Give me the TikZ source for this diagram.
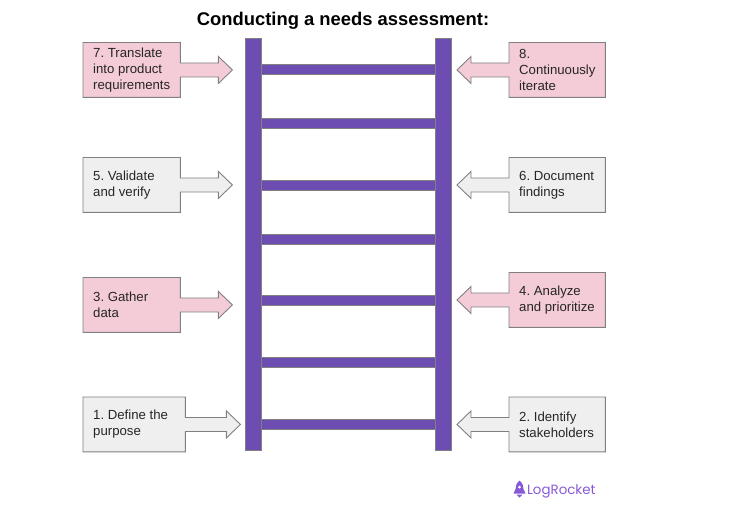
\documentclass[tikz,border=0pt]{standalone}
\usepackage{fontspec}
\setmainfont{Liberation Sans}
\newfontfamily\logofont{Poppins}
\usepackage{xcolor}
\usetikzlibrary{calc, backgrounds}
\definecolor{ladderpurple}{HTML}{6E4DB2}
\definecolor{logopurple}{HTML}{8759D6}
\definecolor{edgegrey}{HTML}{808080}
\definecolor{stepgrey}{HTML}{EFEFEF}
\definecolor{steppink}{HTML}{F4CCD7}
\tikzstyle{stepbox} = [anchor=north west, minimum height=54.5pt, inner xsep=10pt, inner ysep=0pt, align=flush left, font=\frenchspacing\fontsize{13.2}{16}\selectfont, text=black!85]
\tikzstyle{outline} = [draw=edgegrey, line width=0.9pt, line join=miter]
\tikzstyle{part} = [draw=edgegrey, line width=0.8pt, fill=ladderpurple]
% arrow outline of a box: name, fill colour, box edge to tip
\newcommand{\pointright}[3]{
\begin{scope}[on background layer]
\draw[outline, fill=#2] (#1.north west) -- (#1.north east) -- ($(#1.east)+(0,-7)$) -- ++(#3-14,0) -- ++(0,-6.5) -- ++(14,13.5) -- ++(-14,13.5) -- ++(0,-6.5) -- ++(14-#3,0) -- (#1.south east) -- (#1.south west) -- cycle;
\end{scope}}
\newcommand{\pointleft}[3]{
\begin{scope}[on background layer]
\draw[outline, fill=#2] (#1.north east) -- (#1.north west) -- ($(#1.west)+(0,-7)$) -- ++(14-#3,0) -- ++(0,-6.5) -- ++(-14,13.5) -- ++(14,13.5) -- ++(0,-6.5) -- ++(#3-14,0) -- (#1.south west) -- (#1.south east) -- cycle;
\end{scope}}
\begin{document}
\begin{tikzpicture}[x=1pt, y=-1pt]
\useasboundingbox (0,0) rectangle (730,509);
\node[anchor=base, font=\fontsize{18.4}{22}\selectfont\bfseries, text=black] (title) at (343,25) {Conducting a needs assessment:};

% ladder
\foreach \y in {64,118,180,234,295,357,419}
    \draw[part] (261,\y) rectangle (436,\y+10.5);
\draw[part] (245.5,38) rectangle (261.5,450.5);
\draw[part] (435,38) rectangle (451.5,450.5);

% left column
\node[stepbox, text width=82pt] (define) at (83,397) {1. Define the\\purpose};
\node[stepbox, text width=77pt] (gather) at (83,277.5) {3. Gather\\data};
\node[stepbox, text width=77pt] (validate) at (83,157.5) {5. Validate\\and verify};
\node[stepbox, text width=77pt] (translate) at (83,42.5) {7. Translate\\into product\\requirements};
\pointright{translate}{steppink}{52}
\pointright{validate}{stepgrey}{52}
\pointright{gather}{steppink}{52}
\pointright{define}{stepgrey}{55}

% right column
\node[stepbox, text width=76pt] (identify) at (509,397) {2. Identify\\stakeholders};
\node[stepbox, text width=76pt] (analyze) at (509,272.5) {4. Analyze\\and prioritize};
\node[stepbox, text width=76pt] (document) at (509,157.5) {6. Document\\findings};
\node[stepbox, text width=76pt] (iterate) at (509,42.5) {8.\\Continuously\\iterate};
\pointleft{iterate}{steppink}{52}
\pointleft{document}{stepgrey}{52}
\pointleft{analyze}{steppink}{52}
\pointleft{identify}{stepgrey}{52}

% logo
\fill[logopurple] (519.5,480.5) .. controls (522.5,483) and (523.5,486) .. (523.5,489) -- (525.5,493.5) -- (513.5,493.5) -- (515.5,489) .. controls (515.5,486) and (516.5,483) .. (519.5,480.5) -- cycle;
\fill[white] (519.5,487) circle (1.5);
\fill[logopurple] (516.5,494.5) -- (522.5,494.5) -- (519.5,497.5) -- cycle;
\node[anchor=base west, inner sep=0pt, font=\logofont\fontsize{13.4}{16}\selectfont, text=logopurple] (logo) at (527,494) {LogRocket};
\end{tikzpicture}
\end{document}
